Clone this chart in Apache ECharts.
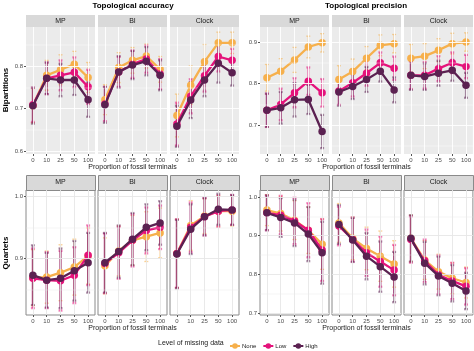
<!DOCTYPE html>
<html>
<head>
<meta charset="utf-8">
<script src="https://cdn.jsdelivr.net/npm/echarts@6/dist/echarts.min.js"></script>
<style>
html, body { margin: 0; padding: 0; background: #fff; }
#chart { width: 474px; height: 351px; }
</style>
</head>
<body>
<div id="chart"></div>
<script>
const cats = ['0', '10', '25', '50', '100']
const methods = ['MP', 'BI', 'Clock']
const levels = ['None', 'Low', 'High']
const levelColors = ['#F6B04C', '#E4137B', '#5B2151']

// each array: rows = MP, BI, Clock ; columns = cats
// Bipartitions / topological accuracy
const bipAccNone = [[0.707, 0.778, 0.791, 0.804, 0.773], [0.721, 0.796, 0.813, 0.823, 0.792], [0.684, 0.755, 0.810, 0.854, 0.854]]
const bipAccLow = [[0.709, 0.771, 0.778, 0.785, 0.751], [0.711, 0.786, 0.804, 0.816, 0.781], [0.664, 0.729, 0.777, 0.822, 0.813]]
const bipAccHigh = [[0.707, 0.771, 0.767, 0.767, 0.721], [0.709, 0.786, 0.802, 0.811, 0.778], [0.659, 0.720, 0.767, 0.806, 0.784]]
const bipAccNoneSd = [[0.04, 0.035, 0.035, 0.03, 0.035], [0.035, 0.035, 0.03, 0.028, 0.03], [0.05, 0.045, 0.04, 0.025, 0.025]]
const bipAccLowSd = [[0.04, 0.037, 0.035, 0.035, 0.04], [0.04, 0.035, 0.032, 0.032, 0.035], [0.05, 0.04, 0.037, 0.035, 0.027]]
const bipAccHighSd = [[0.042, 0.037, 0.038, 0.035, 0.04], [0.042, 0.037, 0.033, 0.033, 0.035], [0.048, 0.042, 0.038, 0.045, 0.03]]

// Bipartitions / topological precision
const bipPrecNone = [[0.814, 0.830, 0.857, 0.888, 0.898], [0.810, 0.829, 0.861, 0.892, 0.896], [0.861, 0.866, 0.880, 0.896, 0.900]]
const bipPrecLow = [[0.736, 0.750, 0.778, 0.806, 0.778], [0.782, 0.802, 0.825, 0.850, 0.837], [0.820, 0.820, 0.836, 0.850, 0.841]]
const bipPrecHigh = [[0.736, 0.742, 0.761, 0.762, 0.685], [0.780, 0.793, 0.810, 0.830, 0.785], [0.820, 0.817, 0.825, 0.832, 0.796]]
const bipPrecNoneSd = [[0.032, 0.03, 0.03, 0.026, 0.022], [0.033, 0.03, 0.028, 0.025, 0.022], [0.033, 0.03, 0.028, 0.025, 0.022]]
const bipPrecLowSd = [[0.04, 0.038, 0.035, 0.033, 0.033], [0.033, 0.033, 0.03, 0.025, 0.028], [0.033, 0.032, 0.03, 0.025, 0.028]]
const bipPrecHighSd = [[0.04, 0.038, 0.04, 0.035, 0.04], [0.033, 0.03, 0.03, 0.025, 0.03], [0.035, 0.032, 0.03, 0.025, 0.03]]

// Quartets / topological accuracy
const quaAccNone = [[0.869, 0.870, 0.877, 0.886, 0.904], [0.888, 0.912, 0.929, 0.935, 0.941], [0.908, 0.953, 0.968, 0.976, 0.976]]
const quaAccLow = [[0.868, 0.865, 0.864, 0.873, 0.905], [0.892, 0.909, 0.929, 0.945, 0.950], [0.908, 0.950, 0.967, 0.976, 0.978]]
const quaAccHigh = [[0.873, 0.865, 0.868, 0.880, 0.893], [0.893, 0.911, 0.931, 0.950, 0.957], [0.907, 0.947, 0.967, 0.979, 0.978]]
const quaAccNoneSd = [[0.045, 0.042, 0.045, 0.045, 0.045], [0.045, 0.04, 0.04, 0.04, 0.04], [0.055, 0.04, 0.028, 0.025, 0.024]]
const quaAccLowSd = [[0.048, 0.045, 0.048, 0.045, 0.048], [0.048, 0.042, 0.042, 0.037, 0.035], [0.055, 0.04, 0.03, 0.025, 0.024]]
const quaAccHighSd = [[0.048, 0.044, 0.048, 0.048, 0.048], [0.048, 0.042, 0.042, 0.037, 0.035], [0.055, 0.04, 0.03, 0.025, 0.024]]

// Quartets / topological precision
const quaPrecNone = [[0.966, 0.957, 0.940, 0.914, 0.878], [0.933, 0.893, 0.867, 0.847, 0.827], [0.893, 0.837, 0.807, 0.790, 0.779]]
const quaPrecLow = [[0.959, 0.953, 0.938, 0.914, 0.863], [0.925, 0.890, 0.856, 0.833, 0.811], [0.890, 0.835, 0.799, 0.783, 0.769]]
const quaPrecHigh = [[0.959, 0.947, 0.933, 0.904, 0.856], [0.929, 0.889, 0.847, 0.820, 0.793], [0.893, 0.829, 0.796, 0.777, 0.757]]
const quaPrecNoneSd = [[0.04, 0.045, 0.05, 0.06, 0.065], [0.05, 0.055, 0.055, 0.065, 0.06], [0.06, 0.05, 0.045, 0.04, 0.04]]
const quaPrecLowSd = [[0.045, 0.05, 0.06, 0.07, 0.08], [0.05, 0.057, 0.06, 0.065, 0.065], [0.06, 0.055, 0.05, 0.047, 0.047]]
const quaPrecHighSd = [[0.045, 0.05, 0.06, 0.07, 0.08], [0.05, 0.057, 0.06, 0.065, 0.065], [0.06, 0.055, 0.05, 0.047, 0.047]]

const yTicksBipAcc = [0.6, 0.7, 0.8]
const yTicksBipPrec = [0.7, 0.8, 0.9]
const yTicksQuaAcc = [0.9, 1.0]
const yTicksQuaPrec = [0.7, 0.8, 0.9, 1.0]

const FONT = '"Liberation Sans", Arial, sans-serif'

// panel blocks (layout only)
const blocks = [
  { vals: [bipAccNone, bipAccLow, bipAccHigh], sds: [bipAccNoneSd, bipAccLowSd, bipAccHighSd], ticks: yTicksBipAcc, min: 0.594, max: 0.891, left: 26, top: 27, height: 127, bw: false },
  { vals: [bipPrecNone, bipPrecLow, bipPrecHigh], sds: [bipPrecNoneSd, bipPrecLowSd, bipPrecHighSd], ticks: yTicksBipPrec, min: 0.631, max: 0.936, left: 260, top: 27, height: 127, bw: false },
  { vals: [quaAccNone, quaAccLow, quaAccHigh], sds: [quaAccNoneSd, quaAccLowSd, quaAccHighSd], ticks: yTicksQuaAcc, min: 0.809, max: 1.01, left: 26, top: 190, height: 125, bw: true },
  { vals: [quaPrecNone, quaPrecLow, quaPrecHigh], sds: [quaPrecNoneSd, quaPrecLowSd, quaPrecHighSd], ticks: yTicksQuaPrec, min: 0.695, max: 1.018, left: 260, top: 190, height: 125, bw: true }
]
const panelW = 69
const panelStep = 72

const grids = [], xAxes = [], yAxes = [], series = [], graphics = []

blocks.forEach((b, bi) => {
  methods.forEach((m, mi) => {
    const gi = bi * 3 + mi
    const left = b.left + mi * panelStep
    grids.push({
      left: left, top: b.top, width: panelW, height: b.height,
      show: true,
      backgroundColor: b.bw ? '#ffffff' : '#EBEBEB',
      borderColor: b.bw ? '#8a8a8a' : 'transparent',
      borderWidth: b.bw ? 1 : 0
    })
    xAxes.push({
      type: 'category', gridIndex: gi, data: cats,
      axisLine: { show: false },
      axisTick: { show: true, alignWithLabel: true, length: 2, lineStyle: { color: '#555' } },
      axisLabel: { fontSize: 6, color: '#4D4D4D', margin: 3, fontFamily: FONT },
      splitLine: { show: false }
    })
    yAxes.push({
      type: 'value', gridIndex: gi, min: b.min, max: b.max,
      axisLine: { show: false },
      axisTick: { show: mi === 0, length: 2, customValues: b.ticks, lineStyle: { color: '#555' } },
      axisLabel: {
        show: mi === 0, fontSize: 6, color: '#4D4D4D', margin: 3, fontFamily: FONT,
        customValues: b.ticks, formatter: v => v.toFixed(1)
      },
      splitLine: { show: false }
    })

    // grid lines through the axes' scales
    const gridColor = b.bw ? '#E6E6E6' : '#ffffff'
    const lines = []
    b.ticks.forEach(t => {
      lines.push({ yAxis: t, lineStyle: { width: 0.9 } })
    })
    const minors = []
    for (let k = 0; k < b.ticks.length + 1; k++) {
      const v = (k === 0 ? b.ticks[0] - 0.05 : b.ticks[k - 1] + 0.05)
      if (v > b.min && v < b.max) minors.push(v)
    }
    minors.forEach(v => lines.push({ yAxis: v, lineStyle: { width: 0.4 } }))
    cats.forEach((c, ci) => lines.push({ xAxis: ci, lineStyle: { width: 0.9 } }))
    series.push({
      type: 'line', xAxisIndex: gi, yAxisIndex: gi, data: [], z: 1, silent: true,
      markLine: {
        silent: true, symbol: 'none', label: { show: false },
        lineStyle: { color: gridColor, type: 'solid' },
        animation: false,
        data: lines
      }
    })

    // error bars
    levels.forEach((lv, li) => {
      const v = b.vals[li][mi]
      const sd = b.sds[li][mi]
      series.push({
        type: 'custom', xAxisIndex: gi, yAxisIndex: gi, z: 2, silent: true,
        data: cats.map((c, ci) => [ci, v[ci], sd[ci]]),
        encode: { x: 0, y: 1 },
        renderItem: (params, api) => {
          const x = api.value(0), y = api.value(1), e = api.value(2)
          const hi = api.coord([x, y + e])
          const lo = api.coord([x, y - e])
          const style = { stroke: levelColors[li], lineWidth: li === 0 ? 1.3 : 2.2, opacity: li === 0 ? 0.55 : 0.5 }
          return {
            type: 'group',
            children: [
              { type: 'line', shape: { x1: hi[0], y1: hi[1], x2: lo[0], y2: lo[1] }, style: style },
              { type: 'line', shape: { x1: hi[0] - 2, y1: hi[1], x2: hi[0] + 2, y2: hi[1] }, style: style },
              { type: 'line', shape: { x1: lo[0] - 2, y1: lo[1], x2: lo[0] + 2, y2: lo[1] }, style: style }
            ]
          }
        }
      })
    })
    // means
    levels.forEach((lv, li) => {
      series.push({
        name: lv, type: 'line', xAxisIndex: gi, yAxisIndex: gi, z: 3 + li,
        data: b.vals[li][mi],
        symbol: 'circle', symbolSize: 7.5,
        lineStyle: { width: 2.3, color: levelColors[li] },
        itemStyle: { color: levelColors[li] },
        animation: false
      })
    })

    // facet strip
    const sy = b.bw ? b.top - 15 : b.top - 12
    const sh = b.bw ? 15 : 12
    graphics.push({
      type: 'rect', left: left, top: sy,
      shape: { width: panelW, height: sh },
      style: { fill: '#D9D9D9', stroke: b.bw ? '#8a8a8a' : null, lineWidth: b.bw ? 1 : 0 }
    })
    graphics.push({
      type: 'text', x: left + panelW / 2, y: sy + sh / 2,
      style: { text: m, fill: '#1A1A1A', font: '7px ' + FONT, align: 'center', verticalAlign: 'middle' }
    })
  })
  // x axis title
  const cx = b.left + (panelStep * 2 + panelW) / 2
  graphics.push({
    type: 'text', x: cx, y: b.top + b.height + 13,
    style: { text: 'Proportion of fossil terminals', fill: '#1A1A1A', font: '7px ' + FONT, align: 'center', verticalAlign: 'middle' }
  })
})

// column / row titles
graphics.push({ type: 'text', x: 133, y: 6, style: { text: 'Topological accuracy', fill: '#000', font: 'bold 8px ' + FONT, align: 'center', verticalAlign: 'middle' } })
graphics.push({ type: 'text', x: 366, y: 6, style: { text: 'Topological precision', fill: '#000', font: 'bold 8px ' + FONT, align: 'center', verticalAlign: 'middle' } })
graphics.push({ type: 'text', x: 6, y: 90, rotation: Math.PI / 2, style: { text: 'Bipartitions', fill: '#000', font: 'bold 8px ' + FONT, align: 'center', verticalAlign: 'middle' } })
graphics.push({ type: 'text', x: 6, y: 253, rotation: Math.PI / 2, style: { text: 'Quartets', fill: '#000', font: 'bold 8px ' + FONT, align: 'center', verticalAlign: 'middle' } })
graphics.push({ type: 'text', x: 158, y: 343, style: { text: 'Level of missing data', fill: '#1A1A1A', font: '7px ' + FONT, align: 'left', verticalAlign: 'middle' } })

const chart = echarts.init(document.getElementById('chart'))
chart.setOption({
  animation: false,
  grid: grids,
  xAxis: xAxes,
  yAxis: yAxes,
  legend: {
    data: levels,
    left: 224, top: 338,
    itemWidth: 10, itemHeight: 7, itemGap: 6,
    textStyle: { fontSize: 6, color: '#1A1A1A', fontFamily: FONT, padding: [0, 0, 0, -3] },
    selectedMode: false
  },
  graphic: graphics,
  series: series
})
</script>
</body>
</html>
